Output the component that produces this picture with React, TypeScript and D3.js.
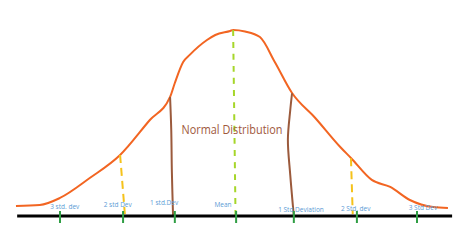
import React from "react";
import * as d3 from "d3";

const W = 474;
const H = 247;

// curve (x in std-dev units, y as % of peak height)
const curveX = [-3.74, -3.34, -3.0, -2.5, -1.99, -1.49, -1.15, -1.07, -0.93, -0.82, -0.53, -0.39, -0.14, -0.09, 0.11, 0.36, 0.61, 0.9, 1.29, 1.71, 1.89, 2.24, 2.55, 2.88, 3.27, 3.52];
const curveY = [5.4, 5.9, 9.7, 20.4, 32.8, 51.6, 64.0, 71.5, 82.8, 86.6, 94.6, 97.3, 99.5, 100, 99.2, 96.2, 82.8, 66.1, 52.7, 37.1, 31.2, 19.4, 15.6, 8.6, 4.8, 4.3];

const tickValues = [-3, -1.94, -1.07, -0.04, 0.93, 1.99, 3];
const tickLabels = ["3 std. dev", "2 std Dev", "1 std.Dev", "Mean", "1 Std Deviation", "2 Std. dev", "3 Std Dev"];
const labelX = [-2.92, -2.03, -1.25, -0.26, 1.05, 1.97, 3.1];
const labelY = [3.8, 4.9, 5.9, 4.9, 2.2, 2.7, 3.2];

// hand-drawn marker lines
const leftSdX = [-1.15, -1.13, -1.12, -1.1];
const leftSdY = [64, 46, 24, 0];
const rightSdX = [0.9, 0.87, 0.83, 0.87, 0.93];
const rightSdY = [66, 57, 41, 22, 0];
const left2X = [-1.99, -1.91];
const left2Y = [32.8, 1];
const right2X = [1.89, 1.92];
const right2Y = [31, 1];
const meanX = [-0.09, -0.07, -0.05];
const meanY = [100, 50, 0];

const axisExtent = [-3.72, 3.59];

export default function App() {
  const x = d3.scaleLinear().domain([-3, 3]).range([60, 417]);
  const y = d3.scaleLinear().domain([0, 100]).range([216, 30]);

  const pts = (xs: number[], ys: number[]) => xs.map((v, i) => [x(v), y(ys[i])] as [number, number]);
  const mono = d3.line().curve(d3.curveMonotoneX);
  const smooth = d3.line().curve(d3.curveCatmullRom.alpha(0.5));
  const straight = d3.line();

  return (
    <svg width={W} height={H} style={{ position: "absolute", left: 0, top: 0, background: "#fff" }}>
      <path d={mono(pts(curveX, curveY)) || ""} fill="none" stroke="#f26522" strokeWidth={2} />
      <path d={smooth(pts(leftSdX, leftSdY)) || ""} fill="none" stroke="#9b5a3c" strokeWidth={2} />
      <path d={smooth(pts(rightSdX, rightSdY)) || ""} fill="none" stroke="#9b5a3c" strokeWidth={2} />
      <path d={straight(pts(left2X, left2Y)) || ""} fill="none" stroke="#f5c21b" strokeWidth={2} strokeDasharray="8,5" />
      <path d={straight(pts(right2X, right2Y)) || ""} fill="none" stroke="#f5c21b" strokeWidth={2} strokeDasharray="8,5" />
      <path d={smooth(pts(meanX, meanY)) || ""} fill="none" stroke="#a6d62a" strokeWidth={2} strokeDasharray="6,6" />
      <line x1={x(axisExtent[0])} x2={x(axisExtent[1])} y1={y(0)} y2={y(0)} stroke="#000" strokeWidth={3} />
      {tickValues.map((t, i) => (
        <line key={"t" + i} x1={x(t)} x2={x(t)} y1={y(0) - 5} y2={y(0) + 7} stroke="#2f9e44" strokeWidth={2} />
      ))}
      {tickLabels.map((l, i) => (
        <text key={"l" + i} x={x(labelX[i])} y={y(labelY[i])} textAnchor="middle" fontFamily="'Open Sans', sans-serif" fontSize={6.5} fill="#5b9bd5">
          {l}
        </text>
      ))}
      <text x={232} y={134} textAnchor="middle" fontFamily="'Open Sans', sans-serif" fontSize={12} fill="#a0583c" textLength={101} lengthAdjust="spacingAndGlyphs">
        Normal Distribution
      </text>
    </svg>
  );
}
